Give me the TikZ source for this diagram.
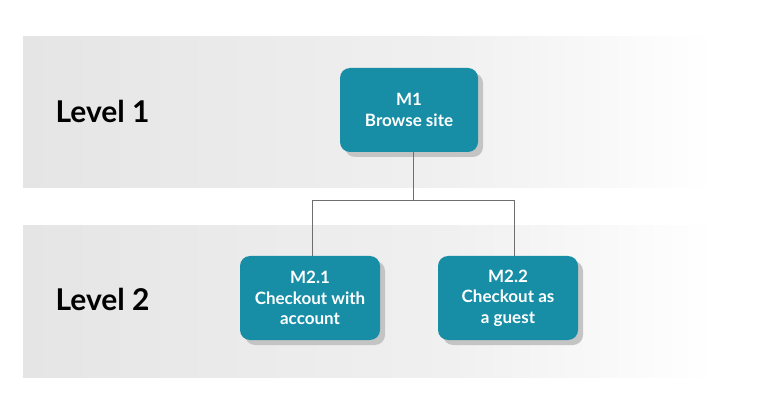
\documentclass[tikz,border=0pt]{standalone}
\usepackage{fontspec}
\setmainfont{Lato}
\usetikzlibrary{shadows}
\definecolor{teal1}{HTML}{178EA6}
\definecolor{bandL}{HTML}{E5E5E5}
\definecolor{bandM}{HTML}{F0F0F0}
\definecolor{linec}{HTML}{6E6E6E}
\definecolor{shad}{HTML}{C4C4C4}
\tikzset{
  mbox/.style={draw=none, fill=teal1, rounded corners=10pt, minimum width=138pt, minimum height=84pt,
    text=white, align=center, font=\fontsize{17}{20.5}\selectfont\bfseries,
    drop shadow={shadow xshift=5pt, shadow yshift=-5pt, fill=shad, opacity=1}},
  lvl/.style={anchor=west, font=\fontsize{30}{32}\selectfont\bfseries, text=black},
  conn/.style={draw=linec, line width=1pt}
}
\begin{document}
\begin{tikzpicture}[x=1pt,y=-1pt]
\useasboundingbox (0,0) rectangle (768,403);
\fill[white] (0,0) rectangle (768,403);
% bands
\shade[left color=bandL, right color=bandM] (23,37) rectangle (450,188);
\shade[left color=bandM, right color=white] (449.5,37) rectangle (715,188);
\shade[left color=bandL, right color=bandM] (23,226) rectangle (450,377);
\shade[left color=bandM, right color=white] (449.5,226) rectangle (715,377);
% labels
\node[lvl] (l1) at (52,111) {Level 1};
\node[lvl] (l2) at (52,299) {Level 2};
% boxes
\node[mbox] (m1) at (409,110) {M1\\Browse site};
\node[mbox, minimum width=140pt] (m21) at (310,298) {M2.1\\Checkout with\\account};
\node[mbox, minimum width=140pt] (m22) at (508,298) {M2.2\\Checkout as\\a guest};
% connectors
\coordinate (j) at (413,201);
\draw[conn] ([xshift=4pt]m1.south) -- (j);
\draw[conn] (j) -| ([xshift=2pt]m21.north);
\draw[conn] (j) -| ([xshift=6pt]m22.north);
\end{tikzpicture}
\end{document}
